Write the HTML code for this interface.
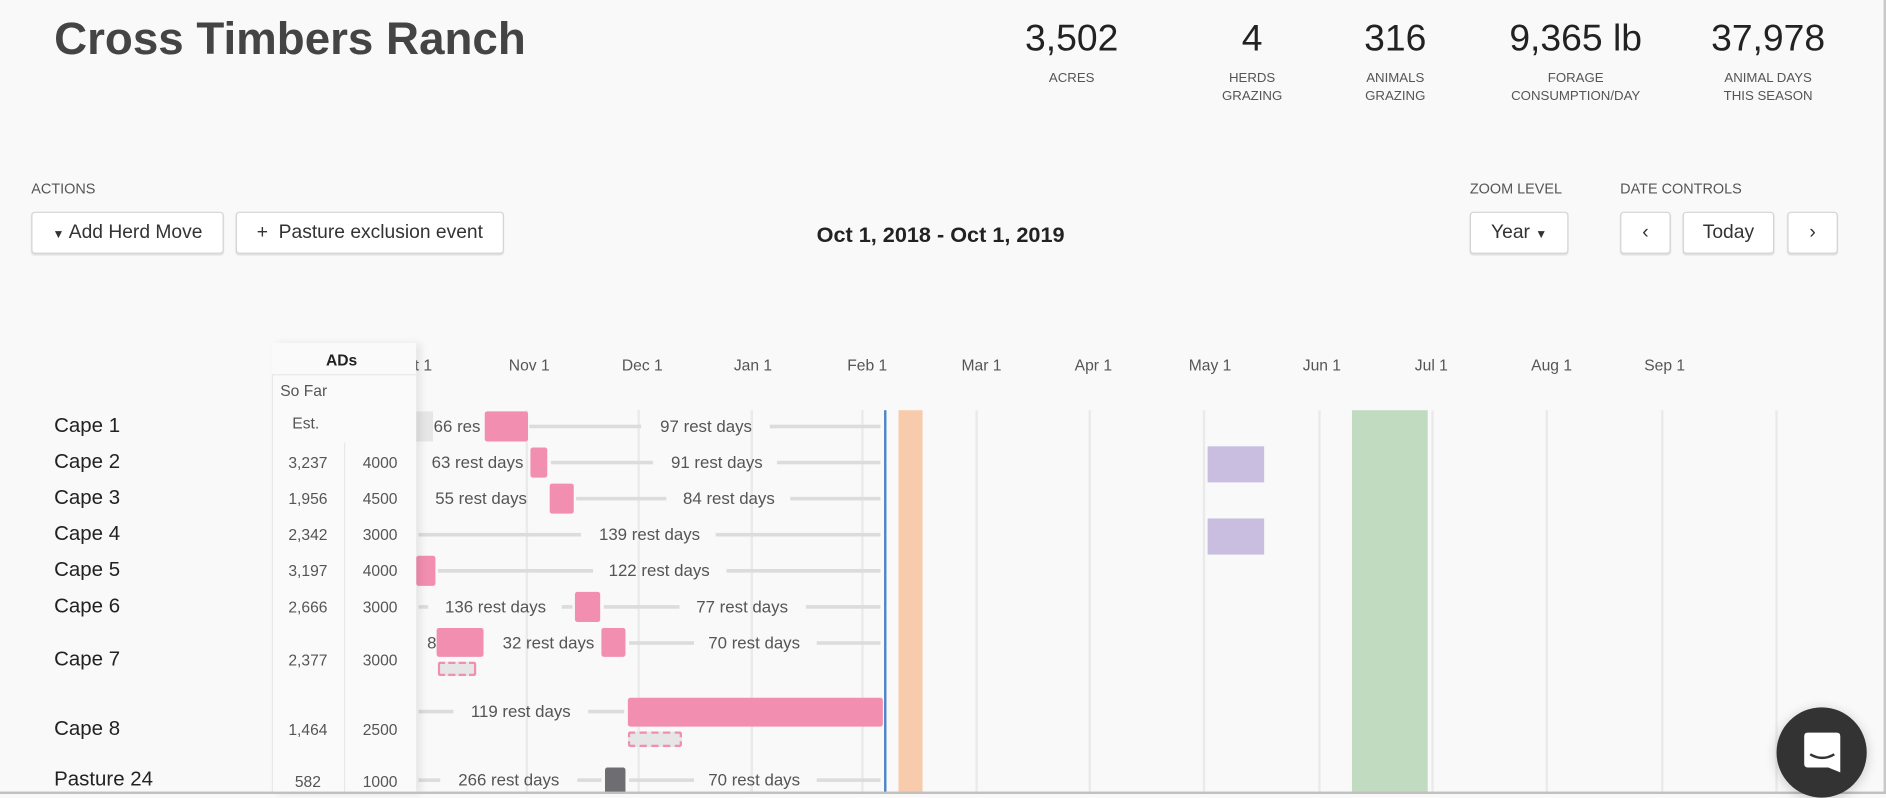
<!DOCTYPE html>
<html><head><meta charset="utf-8"><style>
html,body{margin:0;padding:0;background:#f9f9f9;overflow:hidden;width:1886px;height:794px}
#w{position:absolute;left:0;top:0;width:1568px;height:660px;transform:scale(1.2028,1.203);transform-origin:0 0;font-family:"Liberation Sans",sans-serif;color:#333}
.a{position:absolute;white-space:nowrap}
.num{font-size:31px;color:#222;transform:translateX(-50%);top:14px}
.lab{font-size:11px;color:#555;text-align:center;line-height:15px;transform:translateX(-50%);top:58px}
.sm{font-size:12px;color:#555}
.btn{position:absolute;background:#fff;border:1px solid #d4d4d4;border-radius:3px;box-shadow:0 1px 1px rgba(0,0,0,.1);height:33px;line-height:33px;font-size:16px;color:#333;text-align:center}
.mo{font-size:13px;color:#555;transform:translateX(-50%);top:296px}
.g{position:absolute;top:341px;height:319px;width:2px;background:#eaeaea}
.row{font-size:17px;color:#222;left:45px}
.v{font-size:13px;color:#555;transform:translateX(-50%)}
.p{position:absolute;background:#f28fb1;border-radius:2px}
.l{position:absolute;height:3px;background:#dcdcdc}
.t{font-size:14px;color:#555;transform:translate(-50%,-50%)}
.d{position:absolute;border:2px dashed #f28fb1;background:#e6e6e6;border-radius:2px;box-sizing:border-box}
</style></head><body><div id="w">
<div class="a" style="left:45px;top:12px;font-size:38px;font-weight:bold;color:#444">Cross Timbers Ranch</div>
<div class="a num" style="left:891px">3,502</div><div class="a lab" style="left:891px">ACRES</div>
<div class="a num" style="left:1041px">4</div><div class="a lab" style="left:1041px">HERDS<br>GRAZING</div>
<div class="a num" style="left:1160px">316</div><div class="a lab" style="left:1160px">ANIMALS<br>GRAZING</div>
<div class="a num" style="left:1310px">9,365 lb</div><div class="a lab" style="left:1310px">FORAGE<br>CONSUMPTION/DAY</div>
<div class="a num" style="left:1470px">37,978</div><div class="a lab" style="left:1470px">ANIMAL DAYS<br>THIS SEASON</div>
<div class="a sm" style="left:26px;top:150px">ACTIONS</div>
<div class="a sm" style="left:1222px;top:150px">ZOOM LEVEL</div>
<div class="a sm" style="left:1347px;top:150px">DATE CONTROLS</div>
<div class="btn" style="left:26px;top:176px;width:158px"><span style="font-size:10px">▼</span> Add Herd Move</div>
<div class="btn" style="left:196px;top:176px;width:221px">+&nbsp; Pasture exclusion event</div>
<div class="a" style="left:782px;top:185px;transform:translateX(-50%);font-size:18px;font-weight:bold;color:#222">Oct 1, 2018 - Oct 1, 2019</div>
<div class="btn" style="left:1222px;top:176px;width:80px">Year <span style="font-size:10px">▼</span></div>
<div class="btn" style="left:1347px;top:176px;width:40px">&#x2039;</div>
<div class="btn" style="left:1399px;top:176px;width:74px">Today</div>
<div class="btn" style="left:1486px;top:176px;width:40px">&#x203A;</div>

<!-- grid -->
<div class="g" style="left:437px"></div><div class="g" style="left:530px"></div><div class="g" style="left:624px"></div><div class="g" style="left:716px"></div>
<div class="g" style="left:811px"></div><div class="g" style="left:905px"></div><div class="g" style="left:1000px"></div><div class="g" style="left:1096px"></div>
<div class="g" style="left:1190px"></div><div class="g" style="left:1285px"></div><div class="g" style="left:1381px"></div><div class="g" style="left:1476px"></div>
<div class="a mo" style="left:352px">t 1</div><div class="a mo" style="left:440px">Nov 1</div><div class="a mo" style="left:534px">Dec 1</div><div class="a mo" style="left:626px">Jan 1</div><div class="a mo" style="left:721px">Feb 1</div><div class="a mo" style="left:816px">Mar 1</div><div class="a mo" style="left:909px">Apr 1</div><div class="a mo" style="left:1006px">May 1</div><div class="a mo" style="left:1099px">Jun 1</div><div class="a mo" style="left:1190px">Jul 1</div><div class="a mo" style="left:1290px">Aug 1</div><div class="a mo" style="left:1384px">Sep 1</div>
<div class="a" style="left:747px;top:341px;width:20px;height:319px;background:#f8cbad"></div>
<div class="a" style="left:1124px;top:341px;width:63px;height:319px;background:#c1dbc0"></div>
<div class="a" style="left:1004px;top:371px;width:47px;height:30px;background:#c9bde0"></div>
<div class="a" style="left:1004px;top:431px;width:47px;height:30px;background:#c9bde0"></div>
<div class="a" style="left:735px;top:341px;width:2px;height:319px;background:#4a86c8"></div>

<!-- bars -->
<div class="a" style="left:346px;top:342px;width:14px;height:25px;background:#e6e6e6"></div>
<div class="a t" style="left:380px;top:354px">66 res</div><div class="p" style="left:403px;top:342px;width:36px;height:25px"></div>
<div class="l" style="left:440px;top:353px;width:93px"></div><div class="a t" style="left:587px;top:354px">97 rest days</div><div class="l" style="left:640px;top:353px;width:92px"></div>

<div class="a t" style="left:397px;top:384px">63 rest days</div><div class="p" style="left:441px;top:372px;width:14px;height:25px"></div>
<div class="l" style="left:458px;top:383px;width:85px"></div><div class="a t" style="left:596px;top:384px">91 rest days</div><div class="l" style="left:646px;top:383px;width:86px"></div>

<div class="a t" style="left:400px;top:414px">55 rest days</div><div class="p" style="left:457px;top:402px;width:20px;height:25px"></div>
<div class="l" style="left:479px;top:413px;width:75px"></div><div class="a t" style="left:606px;top:414px">84 rest days</div><div class="l" style="left:657px;top:413px;width:75px"></div>

<div class="l" style="left:348px;top:443px;width:135px"></div><div class="a t" style="left:540px;top:444px">139 rest days</div><div class="l" style="left:595px;top:443px;width:137px"></div>

<div class="p" style="left:346px;top:462px;width:16px;height:25px"></div>
<div class="l" style="left:364px;top:473px;width:129px"></div><div class="a t" style="left:548px;top:474px">122 rest days</div><div class="l" style="left:604px;top:473px;width:128px"></div>

<div class="l" style="left:348px;top:503px;width:8px"></div><div class="a t" style="left:412px;top:504px">136 rest days</div><div class="l" style="left:467px;top:503px;width:9px"></div>
<div class="p" style="left:478px;top:492px;width:21px;height:25px"></div>
<div class="l" style="left:502px;top:503px;width:63px"></div><div class="a t" style="left:617px;top:504px">77 rest days</div><div class="l" style="left:670px;top:503px;width:62px"></div>

<div class="a t" style="left:359px;top:534px">8</div><div class="p" style="left:363px;top:522px;width:39px;height:24px"></div>
<div class="a t" style="left:456px;top:534px">32 rest days</div><div class="p" style="left:500px;top:522px;width:20px;height:24px"></div>
<div class="l" style="left:523px;top:533px;width:54px"></div><div class="a t" style="left:627px;top:534px">70 rest days</div><div class="l" style="left:679px;top:533px;width:53px"></div>
<div class="d" style="left:364px;top:550px;width:32px;height:12px"></div>

<div class="l" style="left:348px;top:590px;width:29px"></div><div class="a t" style="left:433px;top:591px">119 rest days</div><div class="l" style="left:489px;top:590px;width:30px"></div>
<div class="p" style="left:522px;top:580px;width:212px;height:24px"></div>
<div class="d" style="left:522px;top:608px;width:45px;height:13px"></div>

<div class="l" style="left:348px;top:647px;width:18px"></div><div class="a t" style="left:423px;top:648px">266 rest days</div><div class="l" style="left:480px;top:647px;width:20px"></div>
<div class="a" style="left:503px;top:638px;width:17px;height:22px;background:#6e6e72;border-radius:2px"></div>
<div class="l" style="left:523px;top:647px;width:54px"></div><div class="a t" style="left:627px;top:648px">70 rest days</div><div class="l" style="left:679px;top:647px;width:53px"></div>

<!-- ADs panel -->
<div class="a" style="left:226px;top:285px;width:120px;height:375px;background:#fafafa;box-shadow:4px 0 6px rgba(0,0,0,.08)"></div>
<div class="a" style="left:226px;top:311px;width:120px;height:1px;background:#e8e8e8"></div>
<div class="a" style="left:226px;top:311px;width:1px;height:349px;background:#e8e8e8"></div>
<div class="a" style="left:286px;top:368px;width:1px;height:292px;background:#e8e8e8"></div>
<div class="a" style="left:271px;top:292px;font-size:13px;font-weight:bold;color:#222">ADs</div>
<div class="a sm" style="left:233px;top:317px;font-size:13px">So Far</div>
<div class="a sm" style="left:243px;top:344px;font-size:13px">Est.</div>
<div class="a v" style="left:256px;top:377px">3,237</div><div class="a v" style="left:316px;top:377px">4000</div>
<div class="a v" style="left:256px;top:407px">1,956</div><div class="a v" style="left:316px;top:407px">4500</div>
<div class="a v" style="left:256px;top:437px">2,342</div><div class="a v" style="left:316px;top:437px">3000</div>
<div class="a v" style="left:256px;top:467px">3,197</div><div class="a v" style="left:316px;top:467px">4000</div>
<div class="a v" style="left:256px;top:497px">2,666</div><div class="a v" style="left:316px;top:497px">3000</div>
<div class="a v" style="left:256px;top:541px">2,377</div><div class="a v" style="left:316px;top:541px">3000</div>
<div class="a v" style="left:256px;top:599px">1,464</div><div class="a v" style="left:316px;top:599px">2500</div>
<div class="a v" style="left:256px;top:642px">582</div><div class="a v" style="left:316px;top:642px">1000</div>

<div class="a row" style="top:344px">Cape 1</div><div class="a row" style="top:374px">Cape 2</div><div class="a row" style="top:404px">Cape 3</div><div class="a row" style="top:434px">Cape 4</div><div class="a row" style="top:464px">Cape 5</div><div class="a row" style="top:494px">Cape 6</div><div class="a row" style="top:538px">Cape 7</div><div class="a row" style="top:596px">Cape 8</div><div class="a row" style="top:638px">Pasture 24</div>

<div class="a" style="left:1566px;top:0;width:2px;height:660px;background:#c8c8c8"></div>
<div class="a" style="left:0;top:658px;width:1568px;height:2px;background:#c0c0c0"></div>
<div class="a" style="left:1477px;top:588px;width:75px;height:75px;border-radius:50%;background:#333;box-shadow:0 2px 10px rgba(0,0,0,.2)"></div>
<svg class="a" style="left:1497px;top:607px" width="36" height="36" viewBox="0 0 36 36"><path d="M3 5q0-3 3-3h24q3 0 3 3v30l-10-4H6q-3 0-3-3z" fill="#fff"/><path d="M8 20q10 6 20 0" stroke="#333" stroke-width="2" fill="none"/></svg>
</div></body></html>
